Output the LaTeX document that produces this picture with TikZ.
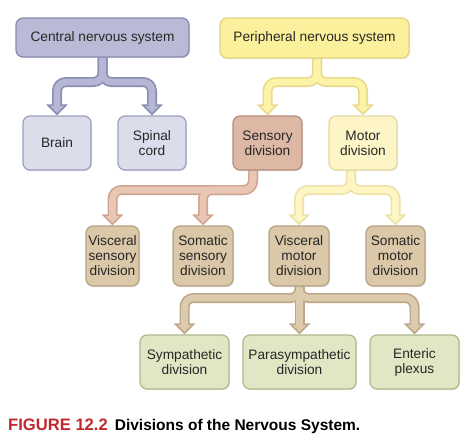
\documentclass[tikz,border=0pt]{standalone}
\usepackage{fontspec}
\setmainfont{Liberation Sans}
\usetikzlibrary{arrows.meta,shadows,backgrounds}

\definecolor{cnsfill}{HTML}{B9BBD6}
\definecolor{cnsline}{HTML}{8589AD}
\definecolor{cnspipe}{HTML}{B5B7D4}
\definecolor{cnspipeline}{HTML}{8A8EB2}
\definecolor{brfill}{HTML}{DCDDEB}
\definecolor{brline}{HTML}{9C9FBE}
\definecolor{pnsfill}{HTML}{FBF19C}
\definecolor{pnsline}{HTML}{E2D47E}
\definecolor{pnspipe}{HTML}{FDF3A6}
\definecolor{pnspipeline}{HTML}{E8DA8C}
\definecolor{sensfill}{HTML}{DDB8A5}
\definecolor{sensline}{HTML}{B48D7A}
\definecolor{senspipe}{HTML}{EAC6B5}
\definecolor{senspipeline}{HTML}{CFA592}
\definecolor{motfill}{HTML}{FDF5C6}
\definecolor{motline}{HTML}{E3D9A2}
\definecolor{motpipe}{HTML}{FDF5C2}
\definecolor{motpipeline}{HTML}{ECE2A6}
\definecolor{divfill}{HTML}{DBC8A8}
\definecolor{divline}{HTML}{B6A283}
\definecolor{divpipe}{HTML}{DCCBAC}
\definecolor{divpipeline}{HTML}{BDA98A}
\definecolor{autfill}{HTML}{DFE7C5}
\definecolor{autline}{HTML}{AEBA8B}
\definecolor{figred}{HTML}{C1272D}
\definecolor{boxtext}{HTML}{262626}

\tikzset{
	box/.style 2 args={draw=#2, fill=#1, line width=1.2pt, rounded corners=7pt, align=center,
		inner sep=0pt, text=boxtext, font=\fontsize{13.7}{15}\selectfont,
		drop shadow={shadow xshift=1pt, shadow yshift=-1.2pt, opacity=.2}},
	pipeout/.style={draw=#1, line width=10pt, rounded corners=9pt, -{Triangle[width=21pt,length=11pt]}},
	pipein/.style={draw=#1, line width=6.6pt, rounded corners=9pt, shorten >=2.5pt, -{Triangle[width=13pt,length=6.8pt]}}
}

% outline pass, then fill pass: #1 outline, #2 fill, #3 start, #4 junction, #5 targets
\newcommand{\nsbranch}[5]{%
	\foreach \a in {#5} \draw[pipeout=#1] (#3) -- (#4) -| (\a.north);
	\foreach \a in {#5} \draw[pipein=#2] (#3) -- (#4) -| (\a.north);
}

\begin{document}
\begin{tikzpicture}[x=1pt,y=-1pt]
	\useasboundingbox (0,0) rectangle (474,437);

	% top row
	\node[box={cnsfill}{cnsline}, minimum width=173, minimum height=39] (cns) at (102.5,37.5) {Central nervous system};
	\node[box={pnsfill}{pnsline}, minimum width=189, minimum height=40] (pns) at (314.5,38) {Peripheral nervous system};

	% second row
	\foreach \name/\x/\txt in {brain/57/Brain, spinal/152/{Spinal\\cord}}
		\node[box={brfill}{brline}, minimum width=68, minimum height=54] (\name) at (\x,143) {\txt};
	\node[box={sensfill}{sensline}, minimum width=69, minimum height=54] (sensory) at (267.5,143) {Sensory\\division};
	\node[box={motfill}{motline}, minimum width=68, minimum height=54] (motor) at (363,143) {Motor\\division};

	% third row
	\foreach \name/\x/\w/\txt in {vsens/112.5/53/{Visceral\\sensory\\division}, ssens/203/60/{Somatic\\sensory\\division},
		vmot/299/60/{Visceral\\motor\\division}, smot/395.5/59/{Somatic\\motor\\division}}
		\node[box={divfill}{divline}, minimum width=\w, minimum height=60] (\name) at (\x,256) {\txt};

	% fourth row
	\foreach \name/\x/\w/\txt in {symp/184.5/89/{Sympathetic\\division}, para/299.5/113/{Parasympathetic\\division},
		enteric/414.5/89/{Enteric\\plexus}}
		\node[box={autfill}{autline}, minimum width=\w, minimum height=54] (\name) at (\x,362) {\txt};

	% caption
	\node[anchor=base west, inner sep=0pt, font=\bfseries] (caption) at (8,430.5)
		{\fontsize{16.6}{19}\selectfont\color{figred}FIGURE 12.2\hspace{7pt}\color{black}\fontsize{15.5}{18}\selectfont Divisions of the Nervous System.};

	% connectors
	\begin{pgfonlayer}{background}
		\coordinate (cnsj) at (102.5,82);
		\coordinate (pnsj) at (317,82);
		\coordinate (sensj) at (253,190);
		\coordinate (motj) at (351,190);
		\coordinate (vmotj) at (299.5,298);
		\nsbranch{cnspipeline}{cnspipe}{cns.south}{cnsj}{brain,spinal}
		\nsbranch{pnspipeline}{pnspipe}{pnsj |- pns.south}{pnsj}{sensory,motor}
		\nsbranch{senspipeline}{senspipe}{sensj |- sensory.south}{sensj}{vsens,ssens}
		\nsbranch{motpipeline}{motpipe}{motj |- motor.south}{motj}{vmot,smot}
		\nsbranch{divpipeline}{divpipe}{vmotj |- vmot.south}{vmotj}{symp,para,enteric}
	\end{pgfonlayer}
\end{tikzpicture}
\end{document}
